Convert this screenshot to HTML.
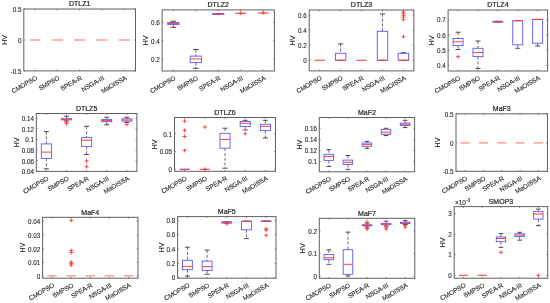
<!DOCTYPE html>
<html><head><meta charset="utf-8"><title>HV boxplots</title>
<style>
html,body{margin:0;padding:0;background:#fff;}
body{width:550px;height:303px;overflow:hidden;}
svg{display:block;will-change:transform;filter:blur(0.3px);}
text{font-family:"Liberation Sans",sans-serif;fill:#2a2a2a;stroke:#2a2a2a;stroke-width:0.12px;}
.yl{font-size:6.3px;text-anchor:end;}
.xl{font-size:6.5px;text-anchor:end;dominant-baseline:hanging;letter-spacing:-0.12px;}
.tt{font-size:7.0px;text-anchor:middle;stroke-width:0.22px;}
.hv{font-size:7.0px;text-anchor:middle;}
.ex{font-size:6.5px;}
.fr{fill:none;stroke:#606060;stroke-width:1;}
.tk{fill:none;stroke:#606060;stroke-width:0.7;}
.bx{fill:none;stroke:#5858ff;stroke-width:0.9;}
.bl{stroke:#5858ff;stroke-width:1.1;}
.md{stroke:#ff3c3c;stroke-width:1.0;}
.wk{stroke:#484848;stroke-width:0.8;stroke-dasharray:3 1.8;}
.cp{stroke:#202020;stroke-width:0.8;}
.pk{stroke:#ff9090;stroke-width:1.35;}
.rd{stroke:#ff4545;stroke-width:1.1;}
.mg{stroke:#cc3a98;stroke-width:1.3;}
.ol{fill:none;stroke:#ff3030;stroke-width:0.85;}
</style></head>
<body><svg width="550" height="303" viewBox="0 0 550 303">
<rect width="550" height="303" fill="#fff"/>
<line x1="29.38" y1="40" x2="40.55" y2="40" class="pk"/>
<line x1="51.73" y1="40" x2="62.9" y2="40" class="pk"/>
<line x1="74.07" y1="40" x2="85.23" y2="40" class="pk"/>
<line x1="96.41" y1="40" x2="107.57" y2="40" class="pk"/>
<line x1="118.75" y1="40" x2="129.91" y2="40" class="pk"/>
<rect x="23.8" y="9" width="111.7" height="61.9" class="fr"/>
<path d="M34.97 9v1.4M34.97 70.9v-1.4M57.31 9v1.4M57.31 70.9v-1.4M79.65 9v1.4M79.65 70.9v-1.4M101.99 9v1.4M101.99 70.9v-1.4M124.33 9v1.4M124.33 70.9v-1.4M23.8 9h1.4M135.5 9h-1.4M23.8 40h1.4M135.5 40h-1.4M23.8 70.9h1.4M135.5 70.9h-1.4" class="tk"/>
<text x="21.4" y="11.7" class="yl">0.5</text>
<text x="21.4" y="42.7" class="yl">0</text>
<text x="21.4" y="73.6" class="yl">-0.5</text>
<text transform="translate(35.27 75.2) rotate(-30)" class="xl">CMOPSO</text>
<text transform="translate(57.61 75.2) rotate(-30)" class="xl">SMPSO</text>
<text transform="translate(79.95 75.2) rotate(-30)" class="xl">SPEA-R</text>
<text transform="translate(102.29 75.2) rotate(-30)" class="xl">NSGA-III</text>
<text transform="translate(124.63 75.2) rotate(-30)" class="xl">MaOISSA</text>
<text x="79.65" y="6.3" class="tt">DTLZ1</text>
<text transform="translate(7.4 39.95) rotate(-90)" class="hv">HV</text>
<line x1="173.33" y1="21.2" x2="173.33" y2="22.5" class="wk"/>
<line x1="173.33" y1="24.5" x2="173.33" y2="27.3" class="wk"/>
<line x1="170.52" y1="21.2" x2="176.14" y2="21.2" class="cp"/>
<line x1="170.52" y1="27.3" x2="176.14" y2="27.3" class="cp"/>
<rect x="167.71" y="22.5" width="11.23" height="2" class="bx"/>
<line x1="167.71" y1="23.6" x2="178.94" y2="23.6" class="md"/>
<line x1="195.79" y1="49.5" x2="195.79" y2="56.1" class="wk"/>
<line x1="195.79" y1="62.6" x2="195.79" y2="68.3" class="wk"/>
<line x1="192.98" y1="49.5" x2="198.6" y2="49.5" class="cp"/>
<line x1="192.98" y1="68.3" x2="198.6" y2="68.3" class="cp"/>
<rect x="190.17" y="56.1" width="11.23" height="6.5" class="bx"/>
<line x1="190.17" y1="58.9" x2="201.41" y2="58.9" class="md"/>
<line x1="215.44" y1="13.5" x2="221.06" y2="13.5" class="cp"/>
<line x1="215.44" y1="14.3" x2="221.06" y2="14.3" class="cp"/>
<rect x="212.63" y="13.5" width="11.23" height="0.8" class="bx"/>
<line x1="212.63" y1="13.9" x2="223.87" y2="13.9" class="md"/>
<line x1="235.09" y1="13.3" x2="246.32" y2="13.3" class="rd"/>
<path d="M238.71 13.3h4M240.71 11.3v4" class="ol"/>
<line x1="257.55" y1="13" x2="268.78" y2="13" class="rd"/>
<path d="M261.17 13h4M263.17 11v4" class="ol"/>
<rect x="162.1" y="9.9" width="112.3" height="61.1" class="fr"/>
<path d="M173.33 9.9v1.4M173.33 71v-1.4M195.79 9.9v1.4M195.79 71v-1.4M218.25 9.9v1.4M218.25 71v-1.4M240.71 9.9v1.4M240.71 71v-1.4M263.17 9.9v1.4M263.17 71v-1.4M162.1 22.3h1.4M274.4 22.3h-1.4M162.1 40.8h1.4M274.4 40.8h-1.4M162.1 59.3h1.4M274.4 59.3h-1.4" class="tk"/>
<text x="159.7" y="25" class="yl">0.6</text>
<text x="159.7" y="43.5" class="yl">0.4</text>
<text x="159.7" y="62" class="yl">0.2</text>
<text transform="translate(173.63 75.3) rotate(-30)" class="xl">CMOPSO</text>
<text transform="translate(196.09 75.3) rotate(-30)" class="xl">SMPSO</text>
<text transform="translate(218.55 75.3) rotate(-30)" class="xl">SPEA-R</text>
<text transform="translate(241.01 75.3) rotate(-30)" class="xl">NSGA-III</text>
<text transform="translate(263.47 75.3) rotate(-30)" class="xl">MaOISSA</text>
<text x="218.25" y="7.2" class="tt">DTLZ2</text>
<text transform="translate(148.4 40.45) rotate(-90)" class="hv">HV</text>
<line x1="314.43" y1="60.3" x2="324.9" y2="60.3" class="rd"/>
<line x1="340.61" y1="43.9" x2="340.61" y2="53.3" class="wk"/>
<line x1="337.99" y1="43.9" x2="343.23" y2="43.9" class="cp"/>
<line x1="337.99" y1="60.3" x2="343.23" y2="60.3" class="cp"/>
<rect x="335.38" y="53.3" width="10.47" height="7" class="bx"/>
<line x1="335.38" y1="60.3" x2="345.85" y2="60.3" class="md"/>
<line x1="356.31" y1="60.3" x2="366.78" y2="60.3" class="rd"/>
<line x1="382.49" y1="13.9" x2="382.49" y2="31.3" class="wk"/>
<line x1="379.87" y1="13.9" x2="385.11" y2="13.9" class="cp"/>
<line x1="379.87" y1="60.3" x2="385.11" y2="60.3" class="cp"/>
<rect x="377.25" y="31.3" width="10.47" height="29" class="bx"/>
<line x1="377.25" y1="60.3" x2="387.73" y2="60.3" class="md"/>
<line x1="400.81" y1="52.7" x2="406.05" y2="52.7" class="cp"/>
<line x1="400.81" y1="60.3" x2="406.05" y2="60.3" class="cp"/>
<rect x="398.19" y="53.3" width="10.47" height="7" class="bx"/>
<line x1="398.19" y1="60.3" x2="408.66" y2="60.3" class="md"/>
<path d="M401.43 12h4M403.43 10v4" class="ol"/>
<path d="M401.43 13.5h4M403.43 11.5v4" class="ol"/>
<path d="M401.43 15.4h4M403.43 13.4v4" class="ol"/>
<path d="M401.43 17.2h4M403.43 15.2v4" class="ol"/>
<path d="M401.43 19.6h4M403.43 17.6v4" class="ol"/>
<path d="M401.43 36.7h4M403.43 34.7v4" class="ol"/>
<rect x="309.2" y="10" width="104.7" height="60.9" class="fr"/>
<path d="M319.67 10v1.4M319.67 70.9v-1.4M340.61 10v1.4M340.61 70.9v-1.4M361.55 10v1.4M361.55 70.9v-1.4M382.49 10v1.4M382.49 70.9v-1.4M403.43 10v1.4M403.43 70.9v-1.4M309.2 15.3h1.4M413.9 15.3h-1.4M309.2 30.2h1.4M413.9 30.2h-1.4M309.2 45.2h1.4M413.9 45.2h-1.4M309.2 60.2h1.4M413.9 60.2h-1.4" class="tk"/>
<text x="306.8" y="18" class="yl">0.6</text>
<text x="306.8" y="32.9" class="yl">0.4</text>
<text x="306.8" y="47.9" class="yl">0.2</text>
<text x="306.8" y="62.9" class="yl">0</text>
<text transform="translate(319.97 75.2) rotate(-30)" class="xl">CMOPSO</text>
<text transform="translate(340.91 75.2) rotate(-30)" class="xl">SMPSO</text>
<text transform="translate(361.85 75.2) rotate(-30)" class="xl">SPEA-R</text>
<text transform="translate(382.79 75.2) rotate(-30)" class="xl">NSGA-III</text>
<text transform="translate(403.73 75.2) rotate(-30)" class="xl">MaOISSA</text>
<text x="361.55" y="7.3" class="tt">DTLZ3</text>
<text transform="translate(294.7 40.45) rotate(-90)" class="hv">HV</text>
<line x1="458.05" y1="32.2" x2="458.05" y2="38.5" class="wk"/>
<line x1="458.05" y1="45.6" x2="458.05" y2="49.5" class="wk"/>
<line x1="455.56" y1="32.2" x2="460.54" y2="32.2" class="cp"/>
<line x1="455.56" y1="49.5" x2="460.54" y2="49.5" class="cp"/>
<rect x="453.07" y="38.5" width="9.95" height="7.1" class="bx"/>
<line x1="453.07" y1="41.8" x2="463.03" y2="41.8" class="md"/>
<path d="M456.05 56.6h4M458.05 54.6v4" class="ol"/>
<line x1="477.95" y1="41" x2="477.95" y2="48.3" class="wk"/>
<line x1="477.95" y1="56.6" x2="477.95" y2="68.5" class="wk"/>
<line x1="475.46" y1="41" x2="480.44" y2="41" class="cp"/>
<line x1="475.46" y1="68.5" x2="480.44" y2="68.5" class="cp"/>
<rect x="472.98" y="48.3" width="9.95" height="8.3" class="bx"/>
<line x1="472.98" y1="52.5" x2="482.93" y2="52.5" class="md"/>
<line x1="495.36" y1="21.3" x2="500.34" y2="21.3" class="cp"/>
<line x1="495.36" y1="22.1" x2="500.34" y2="22.1" class="cp"/>
<rect x="492.88" y="21.3" width="9.95" height="0.8" class="bx"/>
<line x1="492.88" y1="21.7" x2="502.83" y2="21.7" class="md"/>
<line x1="517.75" y1="44.8" x2="517.75" y2="48.3" class="wk"/>
<line x1="515.26" y1="20.7" x2="520.24" y2="20.7" class="cp"/>
<line x1="515.26" y1="48.3" x2="520.24" y2="48.3" class="cp"/>
<rect x="512.77" y="20.7" width="9.95" height="24.1" class="bx"/>
<line x1="512.77" y1="20.7" x2="522.73" y2="20.7" class="md"/>
<line x1="537.65" y1="43.2" x2="537.65" y2="46" class="wk"/>
<line x1="535.16" y1="19.4" x2="540.14" y2="19.4" class="cp"/>
<line x1="535.16" y1="46" x2="540.14" y2="46" class="cp"/>
<rect x="532.67" y="19.4" width="9.95" height="23.8" class="bx"/>
<line x1="532.67" y1="19.4" x2="542.62" y2="19.4" class="md"/>
<rect x="448.1" y="10" width="99.5" height="61" class="fr"/>
<path d="M458.05 10v1.4M458.05 71v-1.4M477.95 10v1.4M477.95 71v-1.4M497.85 10v1.4M497.85 71v-1.4M517.75 10v1.4M517.75 71v-1.4M537.65 10v1.4M537.65 71v-1.4M448.1 19.6h1.4M547.6 19.6h-1.4M448.1 34.9h1.4M547.6 34.9h-1.4M448.1 50.1h1.4M547.6 50.1h-1.4M448.1 65.4h1.4M547.6 65.4h-1.4" class="tk"/>
<text x="445.7" y="22.3" class="yl">0.7</text>
<text x="445.7" y="37.6" class="yl">0.6</text>
<text x="445.7" y="52.8" class="yl">0.5</text>
<text x="445.7" y="68.1" class="yl">0.4</text>
<text transform="translate(458.35 75.3) rotate(-30)" class="xl">CMOPSO</text>
<text transform="translate(478.25 75.3) rotate(-30)" class="xl">SMPSO</text>
<text transform="translate(498.15 75.3) rotate(-30)" class="xl">SPEA-R</text>
<text transform="translate(518.05 75.3) rotate(-30)" class="xl">NSGA-III</text>
<text transform="translate(537.95 75.3) rotate(-30)" class="xl">MaOISSA</text>
<text x="497.85" y="7.3" class="tt">DTLZ4</text>
<text transform="translate(433.8 40.5) rotate(-90)" class="hv">HV</text>
<line x1="46.36" y1="131.6" x2="46.36" y2="143.9" class="wk"/>
<line x1="46.36" y1="158.4" x2="46.36" y2="168.9" class="wk"/>
<line x1="43.84" y1="131.6" x2="48.88" y2="131.6" class="cp"/>
<line x1="43.84" y1="168.9" x2="48.88" y2="168.9" class="cp"/>
<rect x="41.33" y="143.9" width="10.06" height="14.5" class="bx"/>
<line x1="41.33" y1="152.1" x2="51.39" y2="152.1" class="md"/>
<line x1="66.48" y1="116.2" x2="66.48" y2="118.7" class="wk"/>
<line x1="66.48" y1="119.9" x2="66.48" y2="121" class="wk"/>
<line x1="63.96" y1="116.2" x2="68.99" y2="116.2" class="cp"/>
<line x1="63.96" y1="121" x2="68.99" y2="121" class="cp"/>
<rect x="61.45" y="118.7" width="10.06" height="1.2" class="bx"/>
<line x1="61.45" y1="119.3" x2="71.51" y2="119.3" class="md"/>
<path d="M64.48 122.1h4M66.48 120.1v4" class="ol"/>
<path d="M64.48 123.6h4M66.48 121.6v4" class="ol"/>
<line x1="86.6" y1="126.3" x2="86.6" y2="137.4" class="wk"/>
<line x1="86.6" y1="146.4" x2="86.6" y2="154.5" class="wk"/>
<line x1="84.08" y1="126.3" x2="89.11" y2="126.3" class="cp"/>
<line x1="84.08" y1="154.5" x2="89.11" y2="154.5" class="cp"/>
<rect x="81.57" y="137.4" width="10.06" height="9" class="bx"/>
<line x1="81.57" y1="140.2" x2="91.63" y2="140.2" class="md"/>
<path d="M84.6 160.9h4M86.6 158.9v4" class="ol"/>
<path d="M84.6 166.7h4M86.6 164.7v4" class="ol"/>
<line x1="106.72" y1="117.2" x2="106.72" y2="119.4" class="wk"/>
<line x1="106.72" y1="121.7" x2="106.72" y2="124.8" class="wk"/>
<line x1="104.2" y1="117.2" x2="109.23" y2="117.2" class="cp"/>
<line x1="104.2" y1="124.8" x2="109.23" y2="124.8" class="cp"/>
<rect x="101.69" y="119.4" width="10.06" height="2.3" class="bx"/>
<line x1="101.69" y1="120.6" x2="111.75" y2="120.6" class="md"/>
<line x1="126.84" y1="117.2" x2="126.84" y2="118.8" class="wk"/>
<line x1="126.84" y1="121.1" x2="126.84" y2="122.5" class="wk"/>
<line x1="124.33" y1="117.2" x2="129.35" y2="117.2" class="cp"/>
<line x1="124.33" y1="122.5" x2="129.35" y2="122.5" class="cp"/>
<rect x="121.81" y="118.8" width="10.06" height="2.3" class="bx"/>
<line x1="121.81" y1="120" x2="131.87" y2="120" class="md"/>
<path d="M124.84 124.5h4M126.84 122.5v4" class="ol"/>
<rect x="36.3" y="113.5" width="100.6" height="57.9" class="fr"/>
<path d="M46.36 113.5v1.4M46.36 171.4v-1.4M66.48 113.5v1.4M66.48 171.4v-1.4M86.6 113.5v1.4M86.6 171.4v-1.4M106.72 113.5v1.4M106.72 171.4v-1.4M126.84 113.5v1.4M126.84 171.4v-1.4M36.3 118.2h1.4M136.9 118.2h-1.4M36.3 128.8h1.4M136.9 128.8h-1.4M36.3 139.5h1.4M136.9 139.5h-1.4M36.3 150.2h1.4M136.9 150.2h-1.4M36.3 160.8h1.4M136.9 160.8h-1.4M36.3 171.4h1.4M136.9 171.4h-1.4" class="tk"/>
<text x="33.9" y="120.9" class="yl">0.14</text>
<text x="33.9" y="131.5" class="yl">0.12</text>
<text x="33.9" y="142.2" class="yl">0.1</text>
<text x="33.9" y="152.9" class="yl">0.08</text>
<text x="33.9" y="163.5" class="yl">0.06</text>
<text x="33.9" y="174.1" class="yl">0.04</text>
<text transform="translate(46.66 175.7) rotate(-30)" class="xl">CMOPSO</text>
<text transform="translate(66.78 175.7) rotate(-30)" class="xl">SMPSO</text>
<text transform="translate(86.9 175.7) rotate(-30)" class="xl">SPEA-R</text>
<text transform="translate(107.02 175.7) rotate(-30)" class="xl">NSGA-III</text>
<text transform="translate(127.14 175.7) rotate(-30)" class="xl">MaOISSA</text>
<text x="86.6" y="110.8" class="tt">DTLZ5</text>
<text transform="translate(18.9 142.45) rotate(-90)" class="hv">HV</text>
<line x1="179.55" y1="169.3" x2="189.65" y2="169.3" class="mg"/>
<path d="M182.6 121.2h4M184.6 119.2v4" class="ol"/>
<path d="M182.6 130.4h4M184.6 128.4v4" class="ol"/>
<path d="M182.6 136.5h4M184.6 134.5v4" class="ol"/>
<path d="M182.6 150.4h4M184.6 148.4v4" class="ol"/>
<line x1="199.75" y1="169.3" x2="209.85" y2="169.3" class="rd"/>
<path d="M202.8 127h4M204.8 125v4" class="ol"/>
<path d="M202.8 169.3h4M204.8 167.3v4" class="ol"/>
<line x1="225" y1="128.2" x2="225" y2="133.3" class="wk"/>
<line x1="225" y1="148.2" x2="225" y2="168.2" class="wk"/>
<line x1="222.47" y1="128.2" x2="227.53" y2="128.2" class="cp"/>
<line x1="222.47" y1="168.2" x2="227.53" y2="168.2" class="cp"/>
<rect x="219.95" y="133.3" width="10.1" height="14.9" class="bx"/>
<line x1="219.95" y1="139.4" x2="230.05" y2="139.4" class="md"/>
<line x1="245.2" y1="120.3" x2="245.2" y2="121.5" class="wk"/>
<line x1="245.2" y1="126.4" x2="245.2" y2="130" class="wk"/>
<line x1="242.67" y1="120.3" x2="247.72" y2="120.3" class="cp"/>
<line x1="242.67" y1="130" x2="247.72" y2="130" class="cp"/>
<rect x="240.15" y="121.5" width="10.1" height="4.9" class="bx"/>
<line x1="240.15" y1="123.3" x2="250.25" y2="123.3" class="md"/>
<path d="M243.2 133.7h4M245.2 131.7v4" class="ol"/>
<line x1="265.4" y1="120.3" x2="265.4" y2="124.3" class="wk"/>
<line x1="265.4" y1="130.6" x2="265.4" y2="138" class="wk"/>
<line x1="262.88" y1="120.3" x2="267.92" y2="120.3" class="cp"/>
<line x1="262.88" y1="138" x2="267.92" y2="138" class="cp"/>
<rect x="260.35" y="124.3" width="10.1" height="6.3" class="bx"/>
<line x1="260.35" y1="126.4" x2="270.45" y2="126.4" class="md"/>
<rect x="174.5" y="117.5" width="101" height="53.8" class="fr"/>
<path d="M184.6 117.5v1.4M184.6 171.3v-1.4M204.8 117.5v1.4M204.8 171.3v-1.4M225 117.5v1.4M225 171.3v-1.4M245.2 117.5v1.4M245.2 171.3v-1.4M265.4 117.5v1.4M265.4 171.3v-1.4M174.5 133.9h1.4M275.5 133.9h-1.4M174.5 151.6h1.4M275.5 151.6h-1.4M174.5 169.3h1.4M275.5 169.3h-1.4" class="tk"/>
<text x="172.1" y="136.6" class="yl">0.1</text>
<text x="172.1" y="154.3" class="yl">0.05</text>
<text x="172.1" y="172" class="yl">0</text>
<text transform="translate(184.9 175.6) rotate(-30)" class="xl">CMOPSO</text>
<text transform="translate(205.1 175.6) rotate(-30)" class="xl">SMPSO</text>
<text transform="translate(225.3 175.6) rotate(-30)" class="xl">SPEA-R</text>
<text transform="translate(245.5 175.6) rotate(-30)" class="xl">NSGA-III</text>
<text transform="translate(265.7 175.6) rotate(-30)" class="xl">MaOISSA</text>
<text x="225" y="114.8" class="tt">DTLZ6</text>
<text transform="translate(157.3 144.4) rotate(-90)" class="hv">HV</text>
<line x1="328.83" y1="149.7" x2="328.83" y2="154.3" class="wk"/>
<line x1="328.83" y1="160.4" x2="328.83" y2="166.5" class="wk"/>
<line x1="326.45" y1="149.7" x2="331.21" y2="149.7" class="cp"/>
<line x1="326.45" y1="166.5" x2="331.21" y2="166.5" class="cp"/>
<rect x="324.07" y="154.3" width="9.53" height="6.1" class="bx"/>
<line x1="324.07" y1="156.4" x2="333.6" y2="156.4" class="md"/>
<line x1="347.89" y1="155.5" x2="347.89" y2="160.1" class="wk"/>
<line x1="347.89" y1="164.4" x2="347.89" y2="169.3" class="wk"/>
<line x1="345.51" y1="155.5" x2="350.27" y2="155.5" class="cp"/>
<line x1="345.51" y1="169.3" x2="350.27" y2="169.3" class="cp"/>
<rect x="343.12" y="160.1" width="9.53" height="4.3" class="bx"/>
<line x1="343.12" y1="162.3" x2="352.65" y2="162.3" class="md"/>
<line x1="366.95" y1="141.4" x2="366.95" y2="143" class="wk"/>
<line x1="366.95" y1="146.3" x2="366.95" y2="148.3" class="wk"/>
<line x1="364.57" y1="141.4" x2="369.33" y2="141.4" class="cp"/>
<line x1="364.57" y1="148.3" x2="369.33" y2="148.3" class="cp"/>
<rect x="362.19" y="143" width="9.53" height="3.3" class="bx"/>
<line x1="362.19" y1="144.4" x2="371.72" y2="144.4" class="md"/>
<line x1="386.01" y1="128.3" x2="386.01" y2="129.3" class="wk"/>
<line x1="386.01" y1="134.3" x2="386.01" y2="135.6" class="wk"/>
<line x1="383.63" y1="128.3" x2="388.39" y2="128.3" class="cp"/>
<line x1="383.63" y1="135.6" x2="388.39" y2="135.6" class="cp"/>
<rect x="381.25" y="129.3" width="9.53" height="5" class="bx"/>
<line x1="381.25" y1="132.2" x2="390.77" y2="132.2" class="md"/>
<line x1="405.07" y1="120.3" x2="405.07" y2="123.1" class="wk"/>
<line x1="405.07" y1="125.5" x2="405.07" y2="127.6" class="wk"/>
<line x1="402.69" y1="120.3" x2="407.45" y2="120.3" class="cp"/>
<line x1="402.69" y1="127.6" x2="407.45" y2="127.6" class="cp"/>
<rect x="400.31" y="123.1" width="9.53" height="2.4" class="bx"/>
<line x1="400.31" y1="124.2" x2="409.84" y2="124.2" class="md"/>
<rect x="319.3" y="117.5" width="95.3" height="54.3" class="fr"/>
<path d="M328.83 117.5v1.4M328.83 171.8v-1.4M347.89 117.5v1.4M347.89 171.8v-1.4M366.95 117.5v1.4M366.95 171.8v-1.4M386.01 117.5v1.4M386.01 171.8v-1.4M405.07 117.5v1.4M405.07 171.8v-1.4M319.3 128.7h1.4M414.6 128.7h-1.4M319.3 139.6h1.4M414.6 139.6h-1.4M319.3 150.5h1.4M414.6 150.5h-1.4M319.3 161.4h1.4M414.6 161.4h-1.4" class="tk"/>
<text x="316.9" y="131.4" class="yl">0.16</text>
<text x="316.9" y="142.3" class="yl">0.14</text>
<text x="316.9" y="153.2" class="yl">0.12</text>
<text x="316.9" y="164.1" class="yl">0.1</text>
<text transform="translate(329.13 176.1) rotate(-30)" class="xl">CMOPSO</text>
<text transform="translate(348.19 176.1) rotate(-30)" class="xl">SMPSO</text>
<text transform="translate(367.25 176.1) rotate(-30)" class="xl">SPEA-R</text>
<text transform="translate(386.31 176.1) rotate(-30)" class="xl">NSGA-III</text>
<text transform="translate(405.37 176.1) rotate(-30)" class="xl">MaOISSA</text>
<text x="366.95" y="114.8" class="tt">MaF2</text>
<text transform="translate(301.9 144.65) rotate(-90)" class="hv">HV</text>
<line x1="460.57" y1="142.9" x2="469.72" y2="142.9" class="pk"/>
<line x1="478.88" y1="142.9" x2="488.02" y2="142.9" class="pk"/>
<line x1="497.18" y1="142.9" x2="506.32" y2="142.9" class="pk"/>
<line x1="515.47" y1="142.9" x2="524.62" y2="142.9" class="pk"/>
<line x1="533.77" y1="142.9" x2="542.93" y2="142.9" class="pk"/>
<rect x="456" y="113.8" width="91.5" height="57.5" class="fr"/>
<path d="M465.15 113.8v1.4M465.15 171.3v-1.4M483.45 113.8v1.4M483.45 171.3v-1.4M501.75 113.8v1.4M501.75 171.3v-1.4M520.05 113.8v1.4M520.05 171.3v-1.4M538.35 113.8v1.4M538.35 171.3v-1.4M456 113.8h1.4M547.5 113.8h-1.4M456 142.9h1.4M547.5 142.9h-1.4M456 171.3h1.4M547.5 171.3h-1.4" class="tk"/>
<text x="453.6" y="116.5" class="yl">0.5</text>
<text x="453.6" y="145.6" class="yl">0</text>
<text x="453.6" y="174" class="yl">-0.5</text>
<text transform="translate(465.45 175.6) rotate(-30)" class="xl">CMOPSO</text>
<text transform="translate(483.75 175.6) rotate(-30)" class="xl">SMPSO</text>
<text transform="translate(502.05 175.6) rotate(-30)" class="xl">SPEA-R</text>
<text transform="translate(520.35 175.6) rotate(-30)" class="xl">NSGA-III</text>
<text transform="translate(538.65 175.6) rotate(-30)" class="xl">MaOISSA</text>
<text x="501.75" y="111.1" class="tt">MaF3</text>
<text transform="translate(440 142.55) rotate(-90)" class="hv">HV</text>
<line x1="47.37" y1="275.8" x2="56.91" y2="275.8" class="pk"/>
<line x1="66.45" y1="275.8" x2="75.99" y2="275.8" class="pk"/>
<path d="M69.22 220.5h4M71.22 218.5v4" class="ol"/>
<path d="M69.22 250.5h4M71.22 248.5v4" class="ol"/>
<path d="M69.22 252.6h4M71.22 250.6v4" class="ol"/>
<path d="M69.22 262.1h4M71.22 260.1v4" class="ol"/>
<path d="M69.22 263.6h4M71.22 261.6v4" class="ol"/>
<path d="M69.22 265.1h4M71.22 263.1v4" class="ol"/>
<line x1="85.53" y1="275.8" x2="95.07" y2="275.8" class="pk"/>
<line x1="104.61" y1="275.8" x2="114.15" y2="275.8" class="pk"/>
<line x1="123.69" y1="275.8" x2="133.23" y2="275.8" class="pk"/>
<rect x="42.6" y="217.3" width="95.4" height="60.9" class="fr"/>
<path d="M52.14 217.3v1.4M52.14 278.2v-1.4M71.22 217.3v1.4M71.22 278.2v-1.4M90.3 217.3v1.4M90.3 278.2v-1.4M109.38 217.3v1.4M109.38 278.2v-1.4M128.46 217.3v1.4M128.46 278.2v-1.4M42.6 221.2h1.4M138 221.2h-1.4M42.6 235h1.4M138 235h-1.4M42.6 248.8h1.4M138 248.8h-1.4M42.6 262.4h1.4M138 262.4h-1.4M42.6 275.9h1.4M138 275.9h-1.4" class="tk"/>
<text x="40.2" y="223.9" class="yl">0.04</text>
<text x="40.2" y="237.7" class="yl">0.03</text>
<text x="40.2" y="251.5" class="yl">0.02</text>
<text x="40.2" y="265.1" class="yl">0.01</text>
<text x="40.2" y="278.6" class="yl">0</text>
<text transform="translate(52.44 282.5) rotate(-30)" class="xl">CMOPSO</text>
<text transform="translate(71.52 282.5) rotate(-30)" class="xl">SMPSO</text>
<text transform="translate(90.6 282.5) rotate(-30)" class="xl">SPEA-R</text>
<text transform="translate(109.68 282.5) rotate(-30)" class="xl">NSGA-III</text>
<text transform="translate(128.76 282.5) rotate(-30)" class="xl">MaOISSA</text>
<text x="90.3" y="214.6" class="tt">MaF4</text>
<text transform="translate(24.9 247.75) rotate(-90)" class="hv">HV</text>
<line x1="187.44" y1="247.2" x2="187.44" y2="260.3" class="wk"/>
<line x1="187.44" y1="269.7" x2="187.44" y2="276.1" class="wk"/>
<line x1="184.98" y1="247.2" x2="189.9" y2="247.2" class="cp"/>
<line x1="184.98" y1="276.1" x2="189.9" y2="276.1" class="cp"/>
<rect x="182.52" y="260.3" width="9.84" height="9.4" class="bx"/>
<line x1="182.52" y1="266.4" x2="192.36" y2="266.4" class="md"/>
<line x1="207.12" y1="250.1" x2="207.12" y2="261.1" class="wk"/>
<line x1="207.12" y1="270.4" x2="207.12" y2="274.3" class="wk"/>
<line x1="204.66" y1="250.1" x2="209.58" y2="250.1" class="cp"/>
<line x1="204.66" y1="274.3" x2="209.58" y2="274.3" class="cp"/>
<rect x="202.2" y="261.1" width="9.84" height="9.3" class="bx"/>
<line x1="202.2" y1="266.7" x2="212.04" y2="266.7" class="md"/>
<line x1="224.34" y1="221.8" x2="229.26" y2="221.8" class="cp"/>
<line x1="224.34" y1="223.1" x2="229.26" y2="223.1" class="cp"/>
<rect x="221.88" y="221.8" width="9.84" height="1.3" class="bx"/>
<line x1="221.88" y1="222.5" x2="231.72" y2="222.5" class="md"/>
<path d="M224.8 223.9h4M226.8 221.9v4" class="ol"/>
<line x1="246.48" y1="229.8" x2="246.48" y2="238.6" class="wk"/>
<line x1="244.02" y1="221.2" x2="248.94" y2="221.2" class="cp"/>
<line x1="244.02" y1="238.6" x2="248.94" y2="238.6" class="cp"/>
<rect x="241.56" y="221.2" width="9.84" height="8.6" class="bx"/>
<line x1="241.56" y1="221.2" x2="251.4" y2="221.2" class="md"/>
<line x1="263.7" y1="221" x2="268.62" y2="221" class="cp"/>
<line x1="263.7" y1="221.4" x2="268.62" y2="221.4" class="cp"/>
<rect x="261.24" y="221" width="9.84" height="0.4" class="bx"/>
<line x1="261.24" y1="221.1" x2="271.08" y2="221.1" class="md"/>
<path d="M264.16 228.8h4M266.16 226.8v4" class="ol"/>
<path d="M264.16 230h4M266.16 228v4" class="ol"/>
<path d="M264.16 235.3h4M266.16 233.3v4" class="ol"/>
<rect x="177.6" y="216.6" width="98.4" height="61.6" class="fr"/>
<path d="M187.44 216.6v1.4M187.44 278.2v-1.4M207.12 216.6v1.4M207.12 278.2v-1.4M226.8 216.6v1.4M226.8 278.2v-1.4M246.48 216.6v1.4M246.48 278.2v-1.4M266.16 216.6v1.4M266.16 278.2v-1.4M177.6 220.4h1.4M276 220.4h-1.4M177.6 234.7h1.4M276 234.7h-1.4M177.6 249.1h1.4M276 249.1h-1.4M177.6 263.4h1.4M276 263.4h-1.4M177.6 277.7h1.4M276 277.7h-1.4" class="tk"/>
<text x="175.2" y="223.1" class="yl">0.8</text>
<text x="175.2" y="237.4" class="yl">0.6</text>
<text x="175.2" y="251.8" class="yl">0.4</text>
<text x="175.2" y="266.1" class="yl">0.2</text>
<text x="175.2" y="280.4" class="yl">0</text>
<text transform="translate(187.74 282.5) rotate(-30)" class="xl">CMOPSO</text>
<text transform="translate(207.42 282.5) rotate(-30)" class="xl">SMPSO</text>
<text transform="translate(227.1 282.5) rotate(-30)" class="xl">SPEA-R</text>
<text transform="translate(246.78 282.5) rotate(-30)" class="xl">NSGA-III</text>
<text transform="translate(266.46 282.5) rotate(-30)" class="xl">MaOISSA</text>
<text x="226.8" y="213.9" class="tt">MaF5</text>
<text transform="translate(163.6 247.4) rotate(-90)" class="hv">HV</text>
<line x1="328.85" y1="249.9" x2="328.85" y2="254.5" class="wk"/>
<line x1="328.85" y1="259.7" x2="328.85" y2="264.3" class="wk"/>
<line x1="326.46" y1="249.9" x2="331.24" y2="249.9" class="cp"/>
<line x1="326.46" y1="264.3" x2="331.24" y2="264.3" class="cp"/>
<rect x="324.08" y="254.5" width="9.55" height="5.2" class="bx"/>
<line x1="324.08" y1="257.8" x2="333.62" y2="257.8" class="md"/>
<line x1="347.95" y1="232.1" x2="347.95" y2="249.7" class="wk"/>
<line x1="347.95" y1="274.3" x2="347.95" y2="276" class="wk"/>
<line x1="345.56" y1="232.1" x2="350.34" y2="232.1" class="cp"/>
<line x1="345.56" y1="276" x2="350.34" y2="276" class="cp"/>
<rect x="343.18" y="249.7" width="9.55" height="24.6" class="bx"/>
<line x1="343.18" y1="264.3" x2="352.72" y2="264.3" class="md"/>
<line x1="367.05" y1="223" x2="367.05" y2="224.8" class="wk"/>
<line x1="367.05" y1="225.8" x2="367.05" y2="227" class="wk"/>
<line x1="364.66" y1="223" x2="369.44" y2="223" class="cp"/>
<line x1="364.66" y1="227" x2="369.44" y2="227" class="cp"/>
<rect x="362.28" y="224.8" width="9.55" height="1" class="bx"/>
<line x1="362.28" y1="225.3" x2="371.82" y2="225.3" class="md"/>
<path d="M365.05 222.2h4M367.05 220.2v4" class="ol"/>
<path d="M365.05 228h4M367.05 226v4" class="ol"/>
<path d="M365.05 228.9h4M367.05 226.9v4" class="ol"/>
<line x1="386.15" y1="221.2" x2="386.15" y2="223.4" class="wk"/>
<line x1="386.15" y1="224.7" x2="386.15" y2="226" class="wk"/>
<line x1="383.76" y1="221.2" x2="388.54" y2="221.2" class="cp"/>
<line x1="383.76" y1="226" x2="388.54" y2="226" class="cp"/>
<rect x="381.38" y="223.4" width="9.55" height="1.3" class="bx"/>
<line x1="381.38" y1="224" x2="390.93" y2="224" class="md"/>
<path d="M384.15 227.1h4M386.15 225.1v4" class="ol"/>
<path d="M384.15 228.9h4M386.15 226.9v4" class="ol"/>
<line x1="405.25" y1="220.7" x2="405.25" y2="222.2" class="wk"/>
<line x1="405.25" y1="223.4" x2="405.25" y2="224.5" class="wk"/>
<line x1="402.86" y1="220.7" x2="407.64" y2="220.7" class="cp"/>
<line x1="402.86" y1="224.5" x2="407.64" y2="224.5" class="cp"/>
<rect x="400.48" y="222.2" width="9.55" height="1.2" class="bx"/>
<line x1="400.48" y1="222.8" x2="410.02" y2="222.8" class="md"/>
<path d="M403.25 225.3h4M405.25 223.3v4" class="ol"/>
<path d="M403.25 227.1h4M405.25 225.1v4" class="ol"/>
<rect x="319.3" y="218.3" width="95.5" height="60" class="fr"/>
<path d="M328.85 218.3v1.4M328.85 278.3v-1.4M347.95 218.3v1.4M347.95 278.3v-1.4M367.05 218.3v1.4M367.05 278.3v-1.4M386.15 218.3v1.4M386.15 278.3v-1.4M405.25 218.3v1.4M405.25 278.3v-1.4M319.3 230.8h1.4M414.8 230.8h-1.4M319.3 253.4h1.4M414.8 253.4h-1.4M319.3 276.3h1.4M414.8 276.3h-1.4" class="tk"/>
<text x="316.9" y="233.5" class="yl">0.2</text>
<text x="316.9" y="256.1" class="yl">0.1</text>
<text x="316.9" y="279" class="yl">0</text>
<text transform="translate(329.15 282.6) rotate(-30)" class="xl">CMOPSO</text>
<text transform="translate(348.25 282.6) rotate(-30)" class="xl">SMPSO</text>
<text transform="translate(367.35 282.6) rotate(-30)" class="xl">SPEA-R</text>
<text transform="translate(386.45 282.6) rotate(-30)" class="xl">NSGA-III</text>
<text transform="translate(405.55 282.6) rotate(-30)" class="xl">MaOISSA</text>
<text x="367.05" y="215.6" class="tt">MaF7</text>
<text transform="translate(305.3 248.3) rotate(-90)" class="hv">HV</text>
<line x1="458.88" y1="275.3" x2="468.23" y2="275.3" class="rd"/>
<line x1="477.57" y1="275.3" x2="486.93" y2="275.3" class="rd"/>
<line x1="500.95" y1="233.6" x2="500.95" y2="237" class="wk"/>
<line x1="500.95" y1="241.7" x2="500.95" y2="247.3" class="wk"/>
<line x1="498.61" y1="233.6" x2="503.29" y2="233.6" class="cp"/>
<line x1="498.61" y1="247.3" x2="503.29" y2="247.3" class="cp"/>
<rect x="496.28" y="237" width="9.35" height="4.7" class="bx"/>
<line x1="496.28" y1="238.5" x2="505.63" y2="238.5" class="md"/>
<path d="M498.95 252.4h4M500.95 250.4v4" class="ol"/>
<line x1="519.65" y1="232.3" x2="519.65" y2="233.8" class="wk"/>
<line x1="519.65" y1="236.6" x2="519.65" y2="240.2" class="wk"/>
<line x1="517.31" y1="232.3" x2="521.99" y2="232.3" class="cp"/>
<line x1="517.31" y1="240.2" x2="521.99" y2="240.2" class="cp"/>
<rect x="514.98" y="233.8" width="9.35" height="2.8" class="bx"/>
<line x1="514.98" y1="235.1" x2="524.32" y2="235.1" class="md"/>
<line x1="538.35" y1="209.1" x2="538.35" y2="211.6" class="wk"/>
<line x1="538.35" y1="219.1" x2="538.35" y2="225.7" class="wk"/>
<line x1="536.01" y1="209.1" x2="540.69" y2="209.1" class="cp"/>
<line x1="536.01" y1="225.7" x2="540.69" y2="225.7" class="cp"/>
<rect x="533.68" y="211.6" width="9.35" height="7.5" class="bx"/>
<line x1="533.68" y1="214" x2="543.02" y2="214" class="md"/>
<path d="M536.35 275.3h4M538.35 273.3v4" class="ol"/>
<rect x="454.2" y="206.6" width="93.5" height="71.6" class="fr"/>
<path d="M463.55 206.6v1.4M463.55 278.2v-1.4M482.25 206.6v1.4M482.25 278.2v-1.4M500.95 206.6v1.4M500.95 278.2v-1.4M519.65 206.6v1.4M519.65 278.2v-1.4M538.35 206.6v1.4M538.35 278.2v-1.4M454.2 213.4h1.4M547.7 213.4h-1.4M454.2 234.1h1.4M547.7 234.1h-1.4M454.2 254.6h1.4M547.7 254.6h-1.4M454.2 275.3h1.4M547.7 275.3h-1.4" class="tk"/>
<text x="451.8" y="216.1" class="yl">3</text>
<text x="451.8" y="236.8" class="yl">2</text>
<text x="451.8" y="257.3" class="yl">1</text>
<text x="451.8" y="278" class="yl">0</text>
<text transform="translate(463.85 282.5) rotate(-30)" class="xl">CMOPSO</text>
<text transform="translate(482.55 282.5) rotate(-30)" class="xl">SMPSO</text>
<text transform="translate(501.25 282.5) rotate(-30)" class="xl">SPEA-R</text>
<text transform="translate(519.95 282.5) rotate(-30)" class="xl">NSGA-III</text>
<text transform="translate(538.65 282.5) rotate(-30)" class="xl">MaOISSA</text>
<text x="500.95" y="203.9" class="tt">SMOP3</text>
<text transform="translate(445.4 242.4) rotate(-90)" class="hv">HV</text>
<text x="454.9" y="204.9" class="ex">&#215;10<tspan dy="-2.5" font-size="5">-3</tspan></text>
</svg></body></html>
